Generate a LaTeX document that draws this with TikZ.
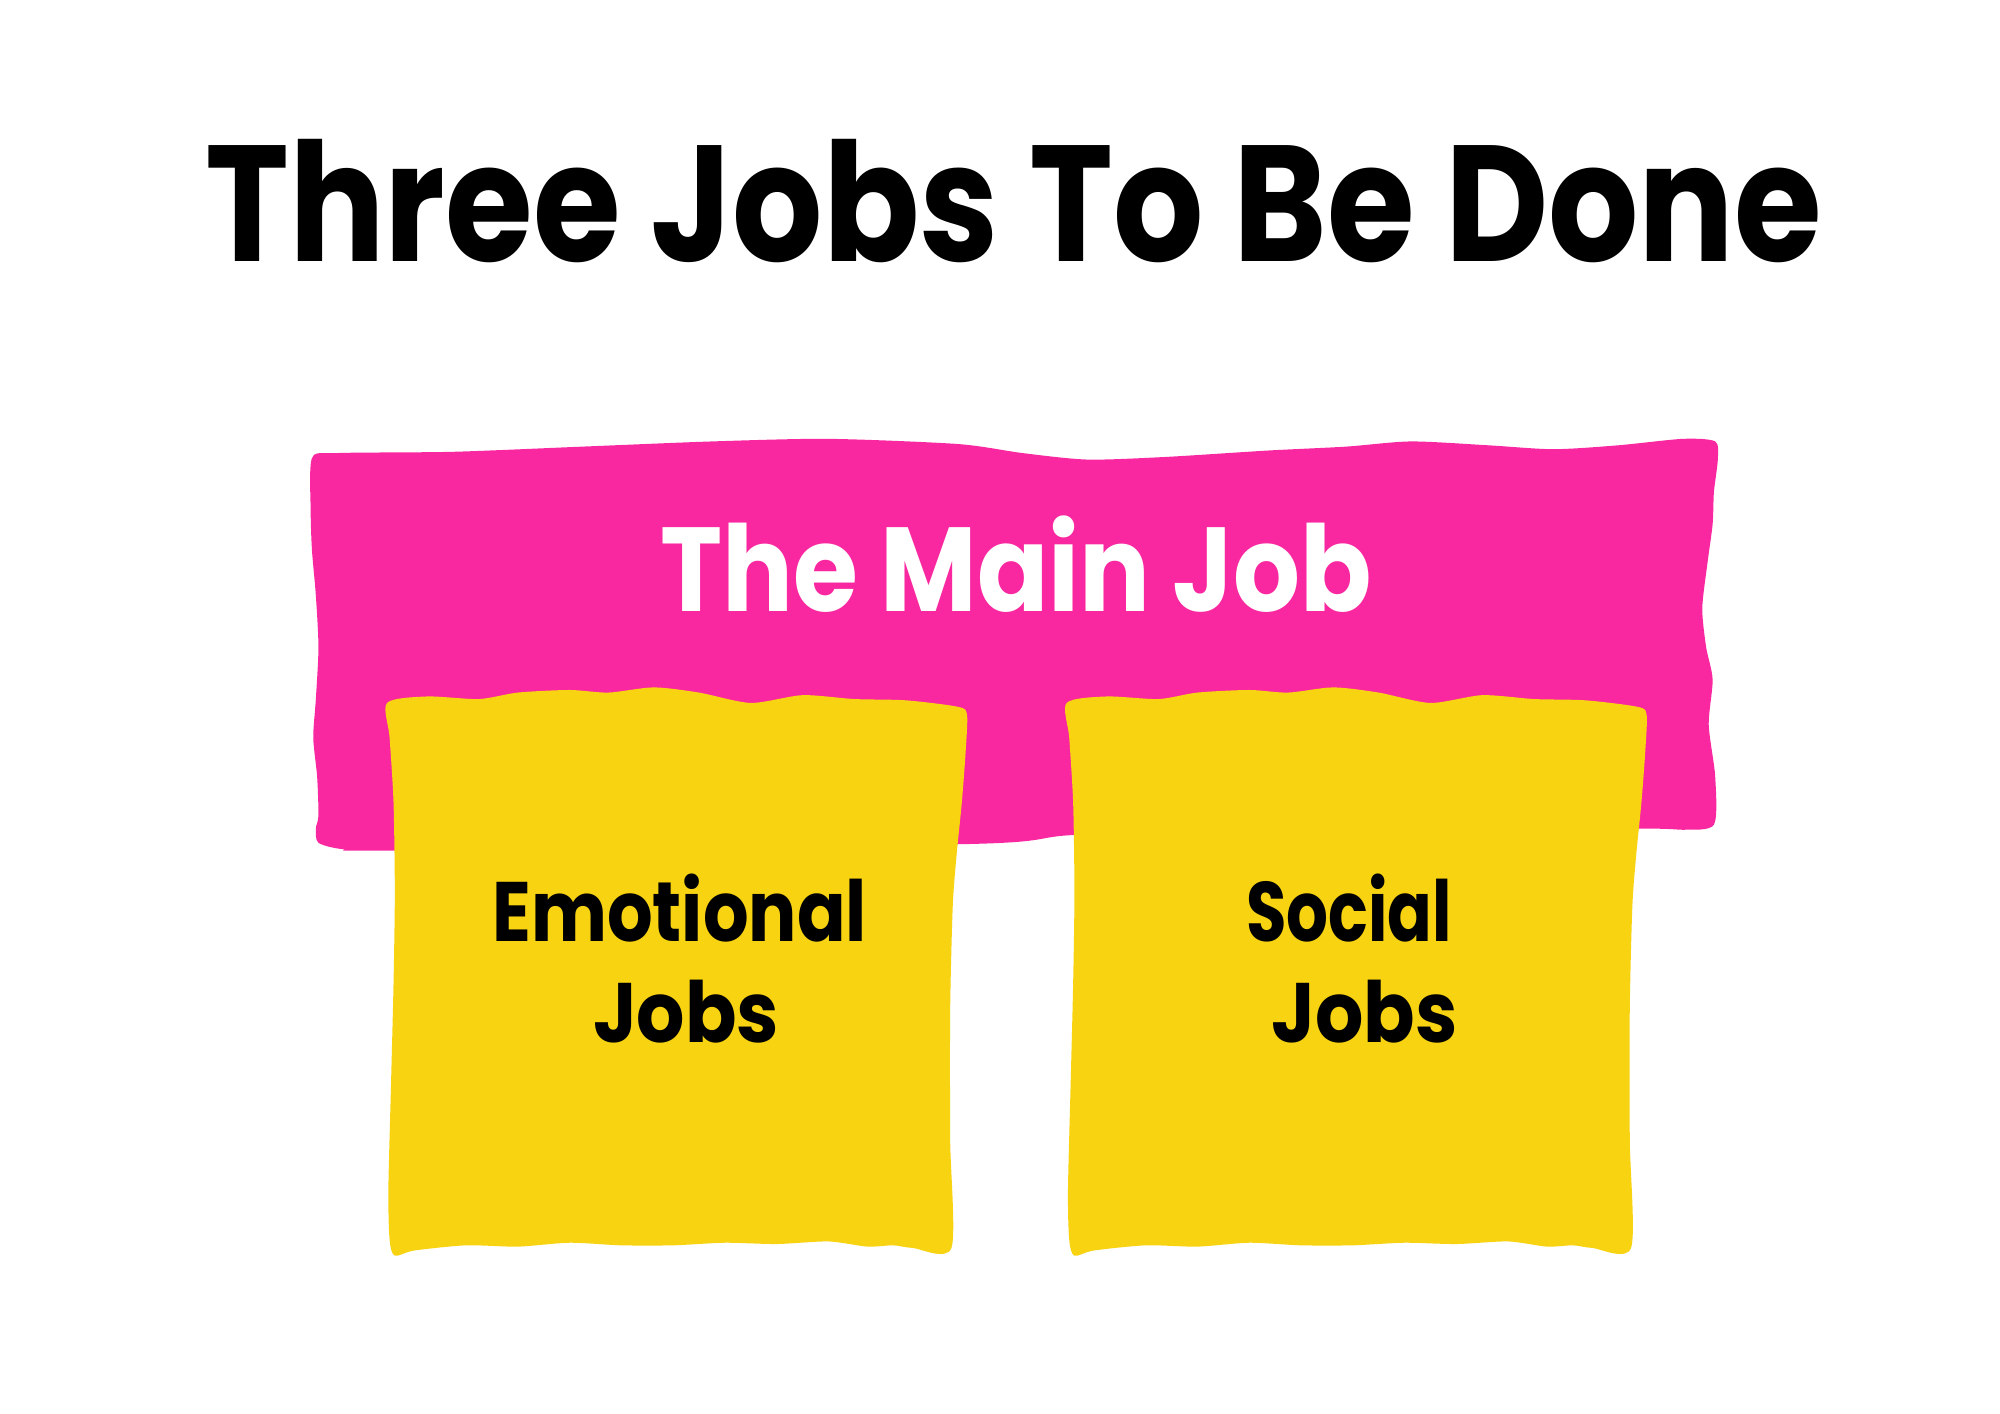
\documentclass[tikz,border=0pt]{standalone}
\usepackage{fontspec}
\setmainfont{Poppins}
\usepackage{xcolor}
\usepackage{graphicx}
\definecolor{jobpink}{HTML}{FA28A0}
\definecolor{jobyellow}{HTML}{F7D312}
\newcommand{\squeeze}[2]{\scalebox{#1}[1]{#2}}

\begin{document}
\begin{tikzpicture}[x=0.12945mm,y=-0.12945mm]
\tikzset{every node/.style={inner sep=0pt}}
\tikzset{job title/.style={anchor=base,font=\fontsize{47}{50}\selectfont\bfseries}}
\tikzset{main job/.style={anchor=base,text=white,font=\fontsize{34}{36}\selectfont\bfseries}}
\tikzset{side job/.style={anchor=base,font=\fontsize{24}{28}\selectfont\bfseries}}
\tikzset{sticky/.style={fill=jobyellow}}

\useasboundingbox[fill=white] (0,0) rectangle (1545,1092.3);

\fill[jobpink] plot[smooth cycle,tension=0.45] coordinates {(241,354) (260,350) (350,349) (450,345) (550,341) (640,339) (740,343) (790,350) (840,355) (900,353) (980,348) (1040,345) (1090,341) (1150,344) (1200,347) (1250,344) (1300,339) (1325,341) (1327,355) (1324,380) (1323,405) (1319,435) (1315,470) (1318,500) (1323,525) (1320,560) (1325,600) (1324,637) (1300,641) (1265,640) (1000,640) (830,645) (748,652) (305,657) (265,656) (246,651) (244,640) (246,630) (245,600) (242,570) (244,540) (246,500) (244,460) (241,425) (240,395)};

\node[job title] (title) at (783,202) {\squeeze{0.86}{Three Jobs To Be Done}};
\node[main job] (main) at (785,472) {\squeeze{0.88}{The Main Job}};

\foreach \s in {0,525}
  \fill[sticky,shift={(\s,0)}] plot[smooth cycle,tension=0.45] coordinates {(299,543) (330,538) (370,540) (400,535) (440,533) (470,535) (505,531) (540,535) (580,543) (620,537) (660,540) (700,541) (740,546) (747,552) (746,580) (743,620) (739,660) (736,700) (734,780) (734,880) (735,964) (705,964) (690,962) (670,963) (640,959) (600,961) (560,960) (520,962) (480,962) (440,960) (400,963) (360,962) (320,966) (305,970) (301,958) (300,920) (302,840) (304,760) (305,690) (304,620) (301,570)};

\node[side job] (emotional) at (525,727) {\squeeze{0.85}{Emotional}};
\node[side job] (emotional jobs) at (530,805) {\squeeze{0.9}{Jobs}};
\node[side job] (social) at (1042,727) {\squeeze{0.78}{Social}};
\node[side job] (social jobs) at (1054,805) {\squeeze{0.9}{Jobs}};
\end{tikzpicture}
\end{document}
